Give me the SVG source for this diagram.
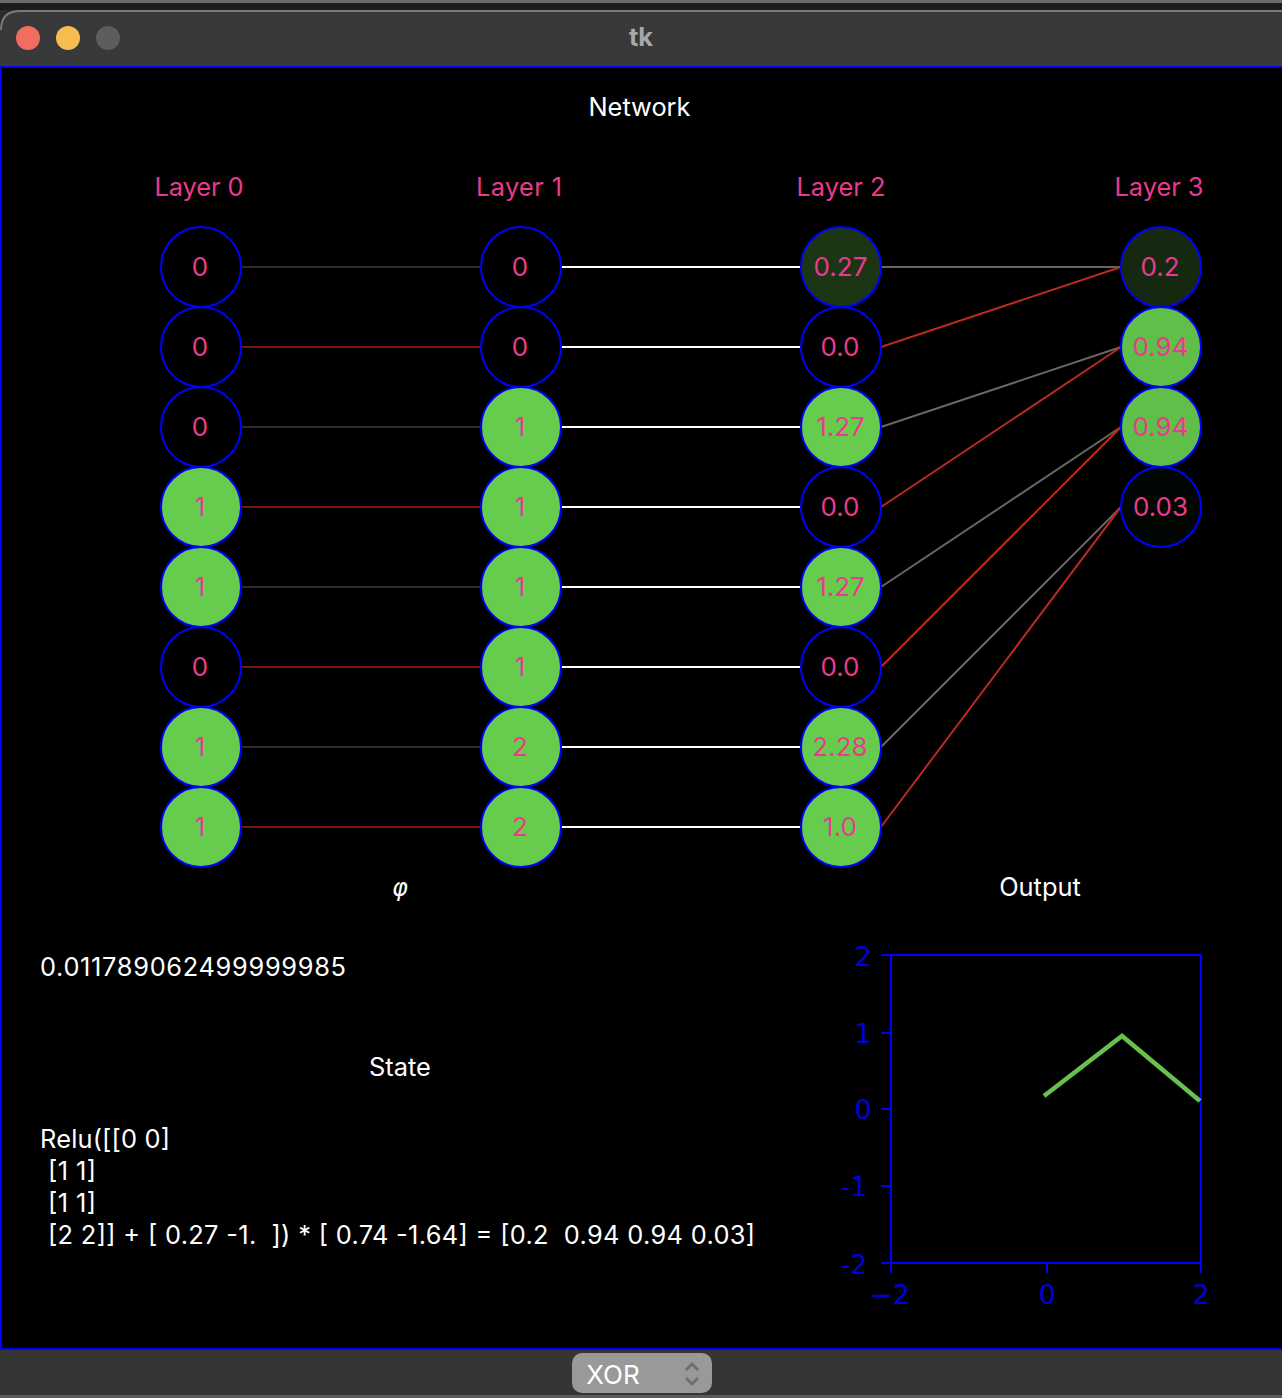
<svg xmlns="http://www.w3.org/2000/svg" width="1282" height="1398" viewBox="0 0 1282 1398">
<style>
text{font-family:"Inter","Liberation Sans",sans-serif;font-size:25.4px;text-anchor:middle}
.w{fill:#fff}.w2{fill:#fff;text-anchor:start}
.p{fill:#ea3a8e}
.v{fill:#ea3a8e;font-size:26px}
.n{fill:#000;stroke:#0000ff;stroke-width:2}
.g{fill:#66cc4e}
.a{stroke:#2a2a2a;stroke-width:2}
.b{stroke:#7a1510;stroke-width:2}
.c{stroke:#fff;stroke-width:2}
.d{stroke:#666;stroke-width:2}
.e{stroke:#bb2a1c;stroke-width:2}
.t{font-family:"DejaVu Sans",sans-serif;font-size:27px;fill:#0000d8}
.ax{stroke:#0000ff;stroke-width:2;fill:none}
</style>
<g id="window">
<rect width="1282" height="1398" fill="#2b2b2b"/>
<rect x="0" y="0" width="1282" height="3" fill="#6c6c6c"/>
<rect x="0" y="3" width="1282" height="7" fill="#1c1c1c"/>
<path d="M0 67V30Q0 10 20 10H1282V67Z" fill="#38393b"/>
<path d="M1 30Q1 11 20 11H1282" fill="none" stroke="#7a7a7a" stroke-width="2"/>
<rect x="0" y="66" width="1282" height="1283" fill="#000"/>
<path d="M1 67V1349M0 67H1282M0 1349H1282" stroke="#0000ff" stroke-width="2" fill="none"/>
<rect x="0" y="1350" width="1282" height="48" fill="#353535"/>
<rect x="0" y="1395" width="1282" height="3" fill="#5a5a5a"/>
<circle cx="28" cy="38" r="12" fill="#f26d60"/>
<circle cx="68" cy="38" r="12" fill="#f6be4f"/>
<circle cx="108" cy="38" r="12" fill="#5c5d5f"/>
<text x="641" y="46" style="fill:#a8a8a8;font-weight:700">tk</text>
</g>
<g id="selector">
<rect x="572" y="1353" width="140" height="40" rx="10" fill="#999"/>
<text x="613" y="1384" class="w" style="font-size:26px">XOR</text>
<path d="M686 1370L692 1364L698 1370M686 1378L692 1384L698 1378" fill="none" stroke="#6f6f6f" stroke-width="3"/>
</g>
<g id="connectors">
<path class="a" d="M241 267H481M241 427H481M241 587H481M241 747H481"/>
<path class="b" d="M241 347H481M241 507H481M241 667H481M241 827H481"/>
<path class="c" d="M561 267H801M561 347H801M561 427H801M561 507H801M561 587H801M561 667H801M561 747H801M561 827H801"/>
<path class="d" d="M881 267L1121 267M881 427L1121 347M881 587L1121 427M881 747L1121 507" fill="none"/>
<path class="e" d="M881 347L1121 267M881 507L1121 347M881 667L1121 427M881 827L1121 507" fill="none"/>
</g>
<g id="l0n0"><circle class="n" cx="201" cy="267" r="40"/><text class="v" x="200" y="276">0</text></g>
<g id="l0n1"><circle class="n" cx="201" cy="347" r="40"/><text class="v" x="200" y="356">0</text></g>
<g id="l0n2"><circle class="n" cx="201" cy="427" r="40"/><text class="v" x="200" y="436">0</text></g>
<g id="l0n3"><circle class="n g" cx="201" cy="507" r="40"/><text class="v" x="200" y="516">1</text></g>
<g id="l0n4"><circle class="n g" cx="201" cy="587" r="40"/><text class="v" x="200" y="596">1</text></g>
<g id="l0n5"><circle class="n" cx="201" cy="667" r="40"/><text class="v" x="200" y="676">0</text></g>
<g id="l0n6"><circle class="n g" cx="201" cy="747" r="40"/><text class="v" x="200" y="756">1</text></g>
<g id="l0n7"><circle class="n g" cx="201" cy="827" r="40"/><text class="v" x="200" y="836">1</text></g>
<g id="l1n0"><circle class="n" cx="521" cy="267" r="40"/><text class="v" x="520" y="276">0</text></g>
<g id="l1n1"><circle class="n" cx="521" cy="347" r="40"/><text class="v" x="520" y="356">0</text></g>
<g id="l1n2"><circle class="n g" cx="521" cy="427" r="40"/><text class="v" x="520" y="436">1</text></g>
<g id="l1n3"><circle class="n g" cx="521" cy="507" r="40"/><text class="v" x="520" y="516">1</text></g>
<g id="l1n4"><circle class="n g" cx="521" cy="587" r="40"/><text class="v" x="520" y="596">1</text></g>
<g id="l1n5"><circle class="n g" cx="521" cy="667" r="40"/><text class="v" x="520" y="676">1</text></g>
<g id="l1n6"><circle class="n g" cx="521" cy="747" r="40"/><text class="v" x="520" y="756">2</text></g>
<g id="l1n7"><circle class="n g" cx="521" cy="827" r="40"/><text class="v" x="520" y="836">2</text></g>
<g id="l2n0"><circle class="n" style="fill:#1c3515" cx="841" cy="267" r="40"/><text class="v" x="840.500" y="276">0.27</text></g>
<g id="l2n1"><circle class="n" cx="841" cy="347" r="40"/><text class="v" x="840" y="356">0.0</text></g>
<g id="l2n2"><circle class="n g" cx="841" cy="427" r="40"/><text class="v" x="840.500" y="436">1.27</text></g>
<g id="l2n3"><circle class="n" cx="841" cy="507" r="40"/><text class="v" x="840" y="516">0.0</text></g>
<g id="l2n4"><circle class="n g" cx="841" cy="587" r="40"/><text class="v" x="840.500" y="596">1.27</text></g>
<g id="l2n5"><circle class="n" cx="841" cy="667" r="40"/><text class="v" x="840" y="676">0.0</text></g>
<g id="l2n6"><circle class="n g" cx="841" cy="747" r="40"/><text class="v" x="840" y="756">2.28</text></g>
<g id="l2n7"><circle class="n g" cx="841" cy="827" r="40"/><text class="v" x="840" y="836">1.0</text></g>
<g id="l3n0"><circle class="n" style="fill:#14290f" cx="1161" cy="267" r="40"/><text class="v" x="1160" y="276">0.2</text></g>
<g id="l3n1"><circle class="n" style="fill:#60bf49" cx="1161" cy="347" r="40"/><text class="v" x="1160.500" y="356">0.94</text></g>
<g id="l3n2"><circle class="n" style="fill:#60bf49" cx="1161" cy="427" r="40"/><text class="v" x="1160.500" y="436">0.94</text></g>
<g id="l3n3"><circle class="n" style="fill:#030703" cx="1161" cy="507" r="40"/><text class="v" x="1160.500" y="516">0.03</text></g>
<g id="labels">
<text class="w" x="639.500" y="116">Network</text>
<text class="p" x="199" y="196" textLength="89">Layer 0</text>
<text class="p" x="519" y="196" textLength="86">Layer 1</text>
<text class="p" x="841" y="196" textLength="89">Layer 2</text>
<text class="p" x="1159" y="196" textLength="89">Layer 3</text>
<text class="w" x="400" y="896" style="font-family:'DejaVu Sans',sans-serif;font-style:italic;font-size:24px">φ</text>
<text class="w" x="1040" y="896">Output</text>
<text class="w2" x="40" y="976" textLength="306">0.011789062499999985</text>
<text class="w" x="400" y="1076">State</text>
<text class="w2" x="40" y="1148" textLength="130">Relu([[0 0]</text>
<text class="w2" x="48" y="1180" textLength="48">[1 1]</text>
<text class="w2" x="48" y="1212" textLength="48">[1 1]</text>
<text class="w2" x="48" y="1244" xml:space="preserve" textLength="707">[2 2]] + [ 0.27 -1.  ]) * [ 0.74 -1.64] = [0.2  0.94 0.94 0.03]</text>
</g>
<g id="plot">
<rect class="ax" x="891" y="955" width="310" height="308"/>
<path class="ax" d="M881 955H891M881 1033H891M881 1109H891M881 1186H891M881 1263H891M891 1263V1273M1047 1263V1273M1201 1263V1273"/>
<polyline points="1044,1096 1122,1036 1200,1101" fill="none" stroke="#66c24c" stroke-width="4.500"/>
<text class="t" x="863" y="966">2</text>
<text class="t" x="863" y="1043">1</text>
<text class="t" x="863" y="1119">0</text>
<text class="t" x="854" y="1196">-1</text>
<text class="t" x="854" y="1274">-2</text>
<text class="t" x="890" y="1304">−2</text>
<text class="t" x="1047" y="1304">0</text>
<text class="t" x="1201" y="1304">2</text>
</g>
</svg>
